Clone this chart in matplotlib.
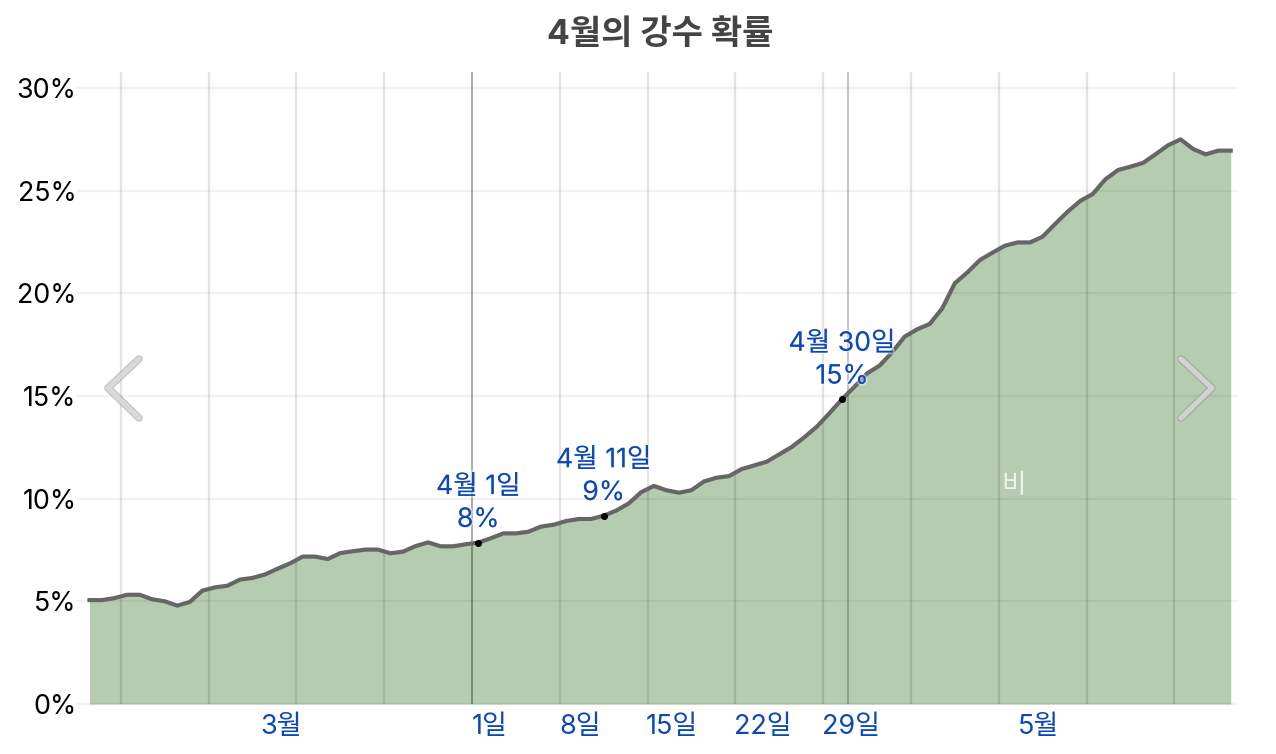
import matplotlib
matplotlib.use("Agg")
import matplotlib.pyplot as plt
import matplotlib.patheffects as pe
from matplotlib.lines import Line2D

plt.rcParams['font.family'] = ['Inter', 'Noto Sans CJK KR', 'DejaVu Sans']

W, H = 1276, 754

title = "4월의 강수 확률"
series_name = "비"
rain_pct = [5.06, 5.06, 5.16, 5.32, 5.32, 5.10, 5.00, 4.79, 4.97, 5.52, 5.68, 5.76, 6.06, 6.14, 6.31, 6.59,
            6.85, 7.18, 7.18, 7.06, 7.35, 7.44, 7.52, 7.52, 7.34, 7.42, 7.69, 7.87, 7.68, 7.68, 7.78, 7.86,
            8.07, 8.31, 8.31, 8.39, 8.64, 8.73, 8.91, 9.01, 9.01, 9.17, 9.42, 9.77, 10.32, 10.62, 10.41, 10.29,
            10.41, 10.84, 11.02, 11.10, 11.44, 11.62, 11.80, 12.16, 12.52, 12.99, 13.51, 14.16, 14.84, 15.45,
            16.10, 16.48, 17.13, 17.89, 18.25, 18.51, 19.27, 20.49, 21.02, 21.62, 21.98, 22.32, 22.48, 22.48,
            22.76, 23.38, 23.98, 24.50, 24.84, 25.55, 26.00, 26.17, 26.35, 26.77, 27.21, 27.50, 27.03, 26.77,
            26.95, 26.95]
days = list(range(len(rain_pct)))

y_ticks = [0, 5, 10, 15, 20, 25, 30]
y_tick_labels = ["0%", "5%", "10%", "15%", "20%", "25%", "30%"]
x_ticks = [15.3, 31.9, 39.1, 46.4, 53.7, 60.7, 75.7]
x_tick_labels = ["3월", "1일", "8일", "15일", "22일", "29일", "5월"]
week_lines = [2.5, 9.5, 16.5, 23.5, 37.5, 44.5, 51.5, 58.5, 65.5, 72.5, 79.5, 86.5]
range_lines = [30.5, 60.5]
range_alpha = [0.42, 0.30]
marked_days = [31, 41, 60]
marked_labels = ["4월 1일\n8%", "4월 11일\n9%", "4월 30일\n15%"]
series_label_pos = (73.65, 10.6)

BLUE = "#0b48b8"

fig = plt.figure(figsize=(W / 100, H / 100), dpi=100)
ax = fig.add_axes([78 / W, (H - 704) / H, (1237 - 78) / W, (704 - 72) / H])
ax.set_xlim(-0.917, 91.5)
ax.set_ylim(0, 30.78)
for s in ax.spines.values():
    s.set_visible(False)

ax.fill_between(days, rain_pct, 0, color="#6f9a62", alpha=0.5, lw=0, zorder=1)

for v in y_ticks:
    ax.axhline(v, color="black", alpha=0.055, lw=1.6, zorder=2, clip_on=False)
for v in week_lines:
    ax.axvline(v, color="black", alpha=0.11, lw=1.6, zorder=2)
for v, a in zip(range_lines, range_alpha):
    ax.axvline(v, color="black", alpha=a, lw=1.1, zorder=2)

ax.plot(days, rain_pct, color="#666666", lw=3.0, zorder=3, solid_joinstyle="round")
ax.scatter(marked_days, [rain_pct[d] for d in marked_days], s=26, color="black", zorder=4, lw=0)

halo = [pe.withStroke(linewidth=2.5, foreground=(1, 1, 1, 0.45))]
for d, label in zip(marked_days, marked_labels):
    ax.annotate(label, (d, rain_pct[d]), xytext=(0, 7), textcoords="offset points",
                ha="center", va="bottom", color=BLUE, fontsize=19.2, linespacing=1.34,
                zorder=5, path_effects=halo)

ax.text(*series_label_pos, series_name, color="#eef2ea", fontsize=19.2, ha="center", va="center", zorder=5)

ax.set_yticks(y_ticks, y_tick_labels, fontsize=19.3, color="black")
ax.set_xticks(x_ticks, x_tick_labels, fontsize=19.5, color=BLUE)
ax.tick_params(axis="both", length=0)
ax.tick_params(axis="y", pad=1)
ax.tick_params(axis="x", pad=7)

fig.text(660 / W, 1 - 35 / H, title, ha="center", va="center", fontsize=24.5,
         fontweight="bold", color="#444444")

# carousel arrows, in figure pixels
for xs in ([139, 108, 139], [1181, 1212, 1181]):
    ys = [359, 388, 418]
    fx = [x / W for x in xs]
    fy = [1 - y / H for y in ys]
    fig.add_artist(Line2D(fx, fy, color="#8f8f8f", alpha=0.55, lw=5.4, solid_capstyle="round",
                          solid_joinstyle="round", zorder=6))
    fig.add_artist(Line2D(fx, fy, color="#e2e2e2", alpha=0.75, lw=3.8, solid_capstyle="round",
                          solid_joinstyle="round", zorder=7))

fig.savefig("out.png", dpi=100)
